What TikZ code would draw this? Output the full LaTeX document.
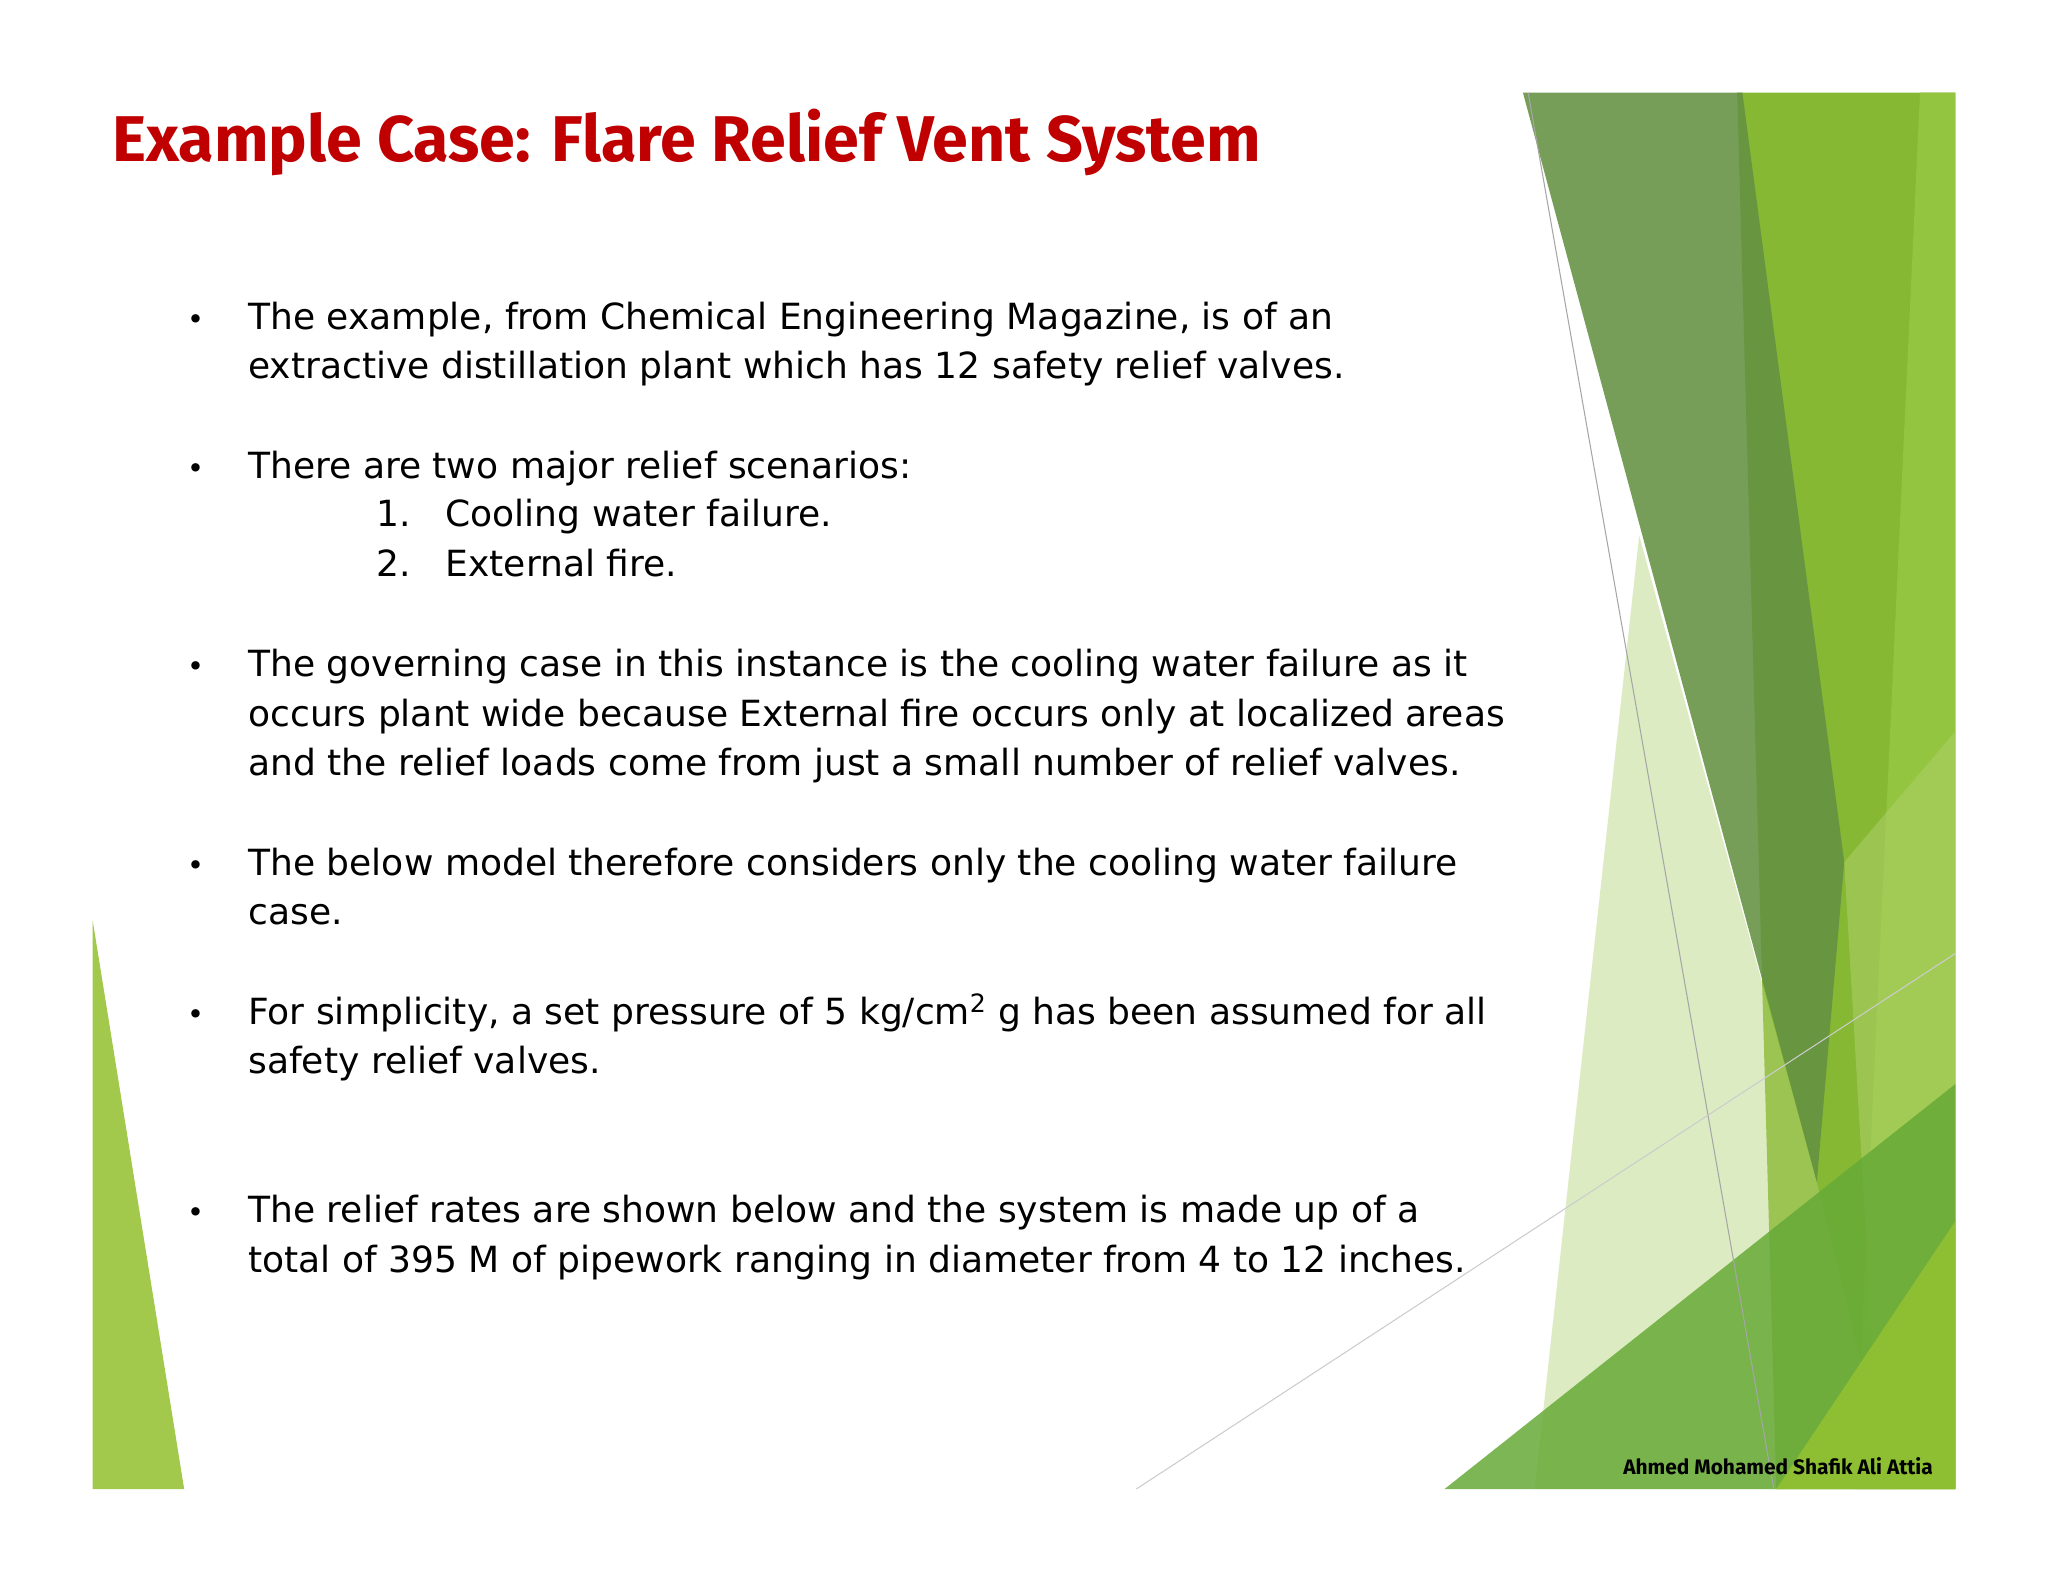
\documentclass[tikz,border=0pt]{standalone}
\usepackage{fontspec}
\setmainfont{DejaVu Sans}
\newfontfamily\titlefont{Fira Sans}
\begin{document}
\begin{tikzpicture}[x=1pt,y=-1pt,
  body/.style={anchor=base west,inner sep=0pt,font=\fontsize{27.6}{32}\selectfont},
  bul/.style={anchor=base west,inner sep=0pt,font=\fontsize{22}{26}\selectfont}]
\useasboundingbox[fill=white] (0,0) rectangle (1568,1211);
% left triangle
\fill[fill={rgb,255:red,162;green,201;blue,76}] (71,705) -- (71,1140) -- (141,1140) -- cycle;
% right panel shapes
\fill[fill={rgb,255:red,134;green,184;blue,52}] (1330,71) -- (1497,71) -- (1497,1140) -- (1360,1140) -- cycle;
\fill[fill={rgb,255:red,148;green,197;blue,64}] (1470,71) -- (1497,71) -- (1497,1140) -- (1420,1140) -- cycle;
\fill[fill={rgb,255:red,181;green,211;blue,122},opacity=0.45] (1255,410) -- (1391,905) -- (1448,1140) -- (1175,1140) -- cycle;
\fill[fill={rgb,255:red,100;green,145;blue,65},opacity=0.88] (1166,71) -- (1334,71) -- (1412,660) -- (1391,905) -- cycle;
\fill[fill={rgb,255:red,170;green,207;blue,100},opacity=0.6] (1412,660) -- (1497,560) -- (1497,1140) -- (1440,1140) -- cycle;
\fill[fill={rgb,255:red,103;green,170;blue,55},opacity=0.85] (1106,1140) -- (1497,830) -- (1497,1140) -- cycle;
\fill[fill={rgb,255:red,146;green,193;blue,50},opacity=0.9] (1360,1140) -- (1497,935) -- (1497,1140) -- cycle;
\coordinate (g1a) at (1170,71); \coordinate (g1b) at (1358,1140);
\coordinate (g2a) at (870,1140); \coordinate (g2b) at (1497,730);
\draw[gray!70,line width=0.8pt] (g1a) -- (g1b);
\draw[gray!40,line width=0.8pt] (g2a) -- (g2b);
% title
\node[anchor=base west,inner sep=0pt,text={rgb,255:red,192;green,0;blue,0},font=\titlefont\fontsize{49.5}{54}\selectfont\bfseries] (title) at (86,124) {Example Case: Flare Relief Vent System};
% bullets
\foreach \y/\n in {252/b1,366/b2,518/b3,670/b4,784/b5,936/b6}
  \node[bul] (\n) at (143,\y) {•};
\node[body] (t1) at (190,252) {The example, from Chemical Engineering Magazine, is of an};
\node[body] (t1b) at (190,290) {extractive distillation plant which has 12 safety relief valves.};
\node[body] (t2) at (190,366) {There are two major relief scenarios:};
\node[body] (n1) at (288,403) {1.};
\node[body] (t2a) at (341,403) {Cooling water failure.};
\node[body] (n2) at (288,441) {2.};
\node[body] (t2b) at (341,441) {External fire.};
\node[body] (t3) at (190,518) {The governing case in this instance is the cooling water failure as it};
\node[body] (t3b) at (190,556) {occurs plant wide because External fire occurs only at localized areas};
\node[body] (t3c) at (190,594) {and the relief loads come from just a small number of relief valves.};
\node[body] (t4) at (190,670) {The below model therefore considers only the cooling water failure};
\node[body] (t4b) at (190,708) {case.};
\node[body] (t5) at (190,784) {For simplicity, a set pressure of 5 kg/cm\textsuperscript{2} g has been assumed for all};
\node[body] (t5b) at (190,822) {safety relief valves.};
\node[body] (t6) at (190,936) {The relief rates are shown below and the system is made up of a};
\node[body] (t6b) at (190,974) {total of 395 M of pipework ranging in diameter from 4 to 12 inches.};
\node[anchor=base east,inner sep=0pt,font=\titlefont\fontsize{16}{18}\selectfont\bfseries] (foot) at (1480,1129) {Ahmed Mohamed Shafik Ali Attia};
\end{tikzpicture}
\end{document}
